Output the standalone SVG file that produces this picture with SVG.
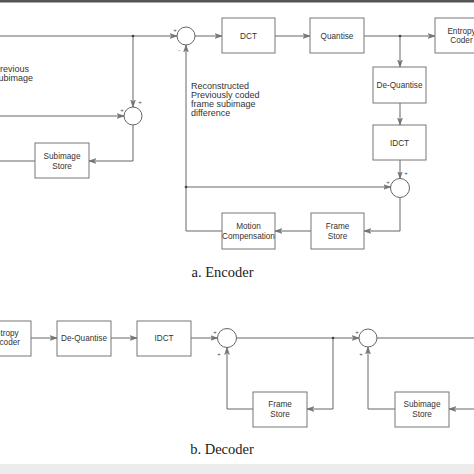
<svg xmlns="http://www.w3.org/2000/svg" width="474" height="474" viewBox="0 0 474 474">
<defs>
<style>
.bx{fill:#fff;stroke:#777;stroke-width:1}
.sj{fill:#fff;stroke:#666;stroke-width:1}
.ln{fill:none;stroke:#666;stroke-width:1}
.t{font-family:"Liberation Sans",Arial,sans-serif;font-size:8.2px;fill:#333;text-anchor:middle}
.l{font-family:"Liberation Sans",Arial,sans-serif;font-size:9px;fill:#333}
.s{font-family:"Liberation Sans",Arial,sans-serif;font-size:6px;fill:#444;text-anchor:middle}
.cap{font-family:"Liberation Serif","Times New Roman",serif;font-size:14.5px;fill:#222;text-anchor:middle}
</style>
<marker id="ar" markerWidth="8" markerHeight="6" refX="7" refY="3" orient="auto" markerUnits="userSpaceOnUse">
<path d="M0,0.6 L7,3 L0,5.4 L2,3 Z" fill="#777" stroke="#666" stroke-width="0.5"/>
</marker>
</defs>
<rect width="474" height="474" fill="#fff"/>
<rect x="0" y="0" width="474" height="2.5" fill="#555"/>
<rect x="0" y="464" width="474" height="10" fill="#ececec"/>

<g id="connectors">
<path class="ln" d="M0,36 H177" marker-end="url(#ar)"/>
<path class="ln" d="M133,36 V107" marker-end="url(#ar)"/>
<path class="ln" d="M0,116 H124" marker-end="url(#ar)"/>
<path class="ln" d="M133,125 V161 H89" marker-end="url(#ar)"/>
<path class="ln" d="M35,161 H0"/>
<path class="ln" d="M195,36 H222" marker-end="url(#ar)"/>
<path class="ln" d="M275,36 H310" marker-end="url(#ar)"/>
<path class="ln" d="M364,36 H435" marker-end="url(#ar)"/>
<path class="ln" d="M400,36 V67" marker-end="url(#ar)"/>
<path class="ln" d="M400,103 V125" marker-end="url(#ar)"/>
<path class="ln" d="M400,160 V178.5" marker-end="url(#ar)"/>
<path class="ln" d="M400,197.5 V231 H364" marker-end="url(#ar)"/>
<path class="ln" d="M311,231 H275" marker-end="url(#ar)"/>
<path class="ln" d="M222,231 H186 V45" marker-end="url(#ar)"/>
<path class="ln" d="M186,187 H390.5" marker-end="url(#ar)"/>
<circle cx="133" cy="36" r="1.3" fill="#444"/>
<circle cx="400" cy="36" r="1.3" fill="#444"/>
<circle cx="186" cy="187" r="1.3" fill="#444"/>

<path class="ln" d="M31,338 H57" marker-end="url(#ar)"/>
<path class="ln" d="M111,338 H137" marker-end="url(#ar)"/>
<path class="ln" d="M191,338 H217.5" marker-end="url(#ar)"/>
<path class="ln" d="M236.5,338 H359" marker-end="url(#ar)"/>
<path class="ln" d="M333,338 V409 H307" marker-end="url(#ar)"/>
<path class="ln" d="M253,409 H227 V347.5" marker-end="url(#ar)"/>
<path class="ln" d="M377,338 H474"/>
<path class="ln" d="M474,409 H449" marker-end="url(#ar)"/>
<path class="ln" d="M395,409 H368 V347" marker-end="url(#ar)"/>
<circle cx="333" cy="338" r="1.3" fill="#444"/>
</g>

<g id="sum1"><circle class="sj" cx="186" cy="36" r="9"/><text class="s" x="175" y="32">+</text><text class="s" x="179" y="52">-</text></g>
<g id="add1"><circle class="sj" cx="133" cy="116" r="9"/><text class="s" x="122" y="112">+</text><text class="s" x="140" y="104">+</text></g>
<g id="add2"><circle class="sj" cx="400" cy="188" r="9.5"/><text class="s" x="388" y="184">+</text><text class="s" x="406" y="175">+</text></g>
<g id="dadd1"><circle class="sj" cx="227" cy="338" r="9.5"/><text class="s" x="215" y="334">+</text><text class="s" x="219" y="356">+</text></g>
<g id="dadd2"><circle class="sj" cx="368" cy="338" r="9"/><text class="s" x="357" y="334">+</text><text class="s" x="361" y="356">+</text></g>

<g id="dct"><rect class="bx" x="222" y="18" width="53" height="35"/><text class="t" x="248.5" y="39">DCT</text></g>
<g id="quantise"><rect class="bx" x="310" y="18" width="54" height="35"/><text class="t" x="337" y="39">Quantise</text></g>
<g id="entropy-coder"><rect class="bx" x="435" y="18" width="53" height="35"/><text class="t" x="461.5" y="34">Entropy</text><text class="t" x="461.5" y="43">Coder</text></g>
<g id="dequantise"><rect class="bx" x="373" y="67" width="53" height="36"/><text class="t" x="399.5" y="88">De-Quantise</text></g>
<g id="idct"><rect class="bx" x="373" y="125" width="53" height="35"/><text class="t" x="399.5" y="145.5">IDCT</text></g>
<g id="frame-store"><rect class="bx" x="311" y="213" width="53" height="36"/><text class="t" x="337.5" y="229">Frame</text><text class="t" x="337.5" y="238.5">Store</text></g>
<g id="motion-comp"><rect class="bx" x="222" y="213" width="53" height="36"/><text class="t" x="248.5" y="229">Motion</text><text class="t" x="248.5" y="238.5" font-size="7.8">Compensation</text></g>
<g id="subimage-store"><rect class="bx" x="35" y="143" width="54" height="35"/><text class="t" x="62" y="159">Subimage</text><text class="t" x="62" y="168.5">Store</text></g>

<g id="labels">
<text class="l" x="-6" y="72">Previous</text>
<text class="l" x="-6" y="81">subimage</text>
<text class="l" x="191" y="89">Reconstructed</text>
<text class="l" x="191" y="98">Previously coded</text>
<text class="l" x="191" y="107">frame subimage</text>
<text class="l" x="191" y="116">difference</text>
<text class="cap" x="222.5" y="277">a. Encoder</text>
<text class="cap" x="222" y="454">b. Decoder</text>
</g>

<g id="entropy-decoder"><rect class="bx" x="-22" y="321" width="53" height="35"/><text class="t" x="4.5" y="336">Entropy</text><text class="t" x="4.5" y="345">Decoder</text></g>
<g id="d-dequantise"><rect class="bx" x="57" y="321" width="54" height="35"/><text class="t" x="84" y="341">De-Quantise</text></g>
<g id="d-idct"><rect class="bx" x="137" y="321" width="54" height="35"/><text class="t" x="164" y="341">IDCT</text></g>
<g id="d-frame-store"><rect class="bx" x="253" y="392" width="54" height="35"/><text class="t" x="280" y="407">Frame</text><text class="t" x="280" y="416.5">Store</text></g>
<g id="d-subimage-store"><rect class="bx" x="395" y="392" width="54" height="35"/><text class="t" x="422" y="407">Subimage</text><text class="t" x="422" y="416.5">Store</text></g>
</svg>
